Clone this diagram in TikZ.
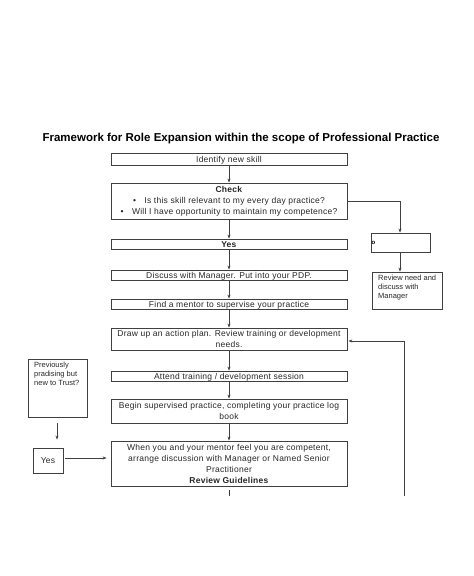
\documentclass[tikz,border=0pt]{standalone}
\usepackage{fontspec}
\setmainfont{Liberation Sans}
\newfontfamily\boxfont[LetterSpace=3]{Liberation Sans}
\usetikzlibrary{arrows.meta}
\begin{document}
\begin{tikzpicture}[x=1pt,y=-1pt,
  box/.style={draw=black!75,line width=0.8pt,inner sep=0pt,font=\boxfont\fontsize{8.5}{11}\selectfont,text=black!85},
  lbox/.style={box,text height=6.5pt,text depth=0pt},
  mbox/.style={box,align=center},
  sbox/.style={draw=black!75,line width=0.8pt,inner sep=0pt},
  note/.style={inner sep=0pt,align=left,font=\fontsize{7.5}{9}\selectfont,text=black!85,anchor=north west},
  arr/.style={draw=black!75,line width=0.7pt,-{Stealth[length=4pt,width=3pt]}},
  ln/.style={draw=black!75,line width=0.7pt}]
\useasboundingbox (0,0) rectangle (474,576);
\node[font=\bfseries\fontsize{11.5}{13}\selectfont,inner sep=0pt,anchor=base] (title) at (241,141) {Framework for Role Expansion within the scope of Professional Practice};
\node[lbox,minimum width=236,minimum height=12] (identify) at (229,159) {Identify new skill};
\node[mbox,minimum width=236,minimum height=36] (check) at (229,201) {\textbf{Check}\\\textbullet\quad Is this skill relevant to my every day practice?\\\textbullet\quad Will I have opportunity to maintain my competence?};
\node[lbox,minimum width=236,minimum height=10] (yes) at (229,244) {\textbf{Yes}};
\node[lbox,minimum width=236,minimum height=10] (discuss) at (229,275) {Discuss with Manager. Put into your PDP.};
\node[lbox,minimum width=236,minimum height=10] (mentor) at (229,304) {Find a mentor to supervise your practice};
\node[mbox,minimum width=236,minimum height=22] (drawup) at (229,339) {Draw up an action plan. Review training or development\\needs.};
\node[lbox,minimum width=236,minimum height=10] (attend) at (229,376) {Attend training / development session};
\node[mbox,minimum width=236,minimum height=24] (begin) at (229,411) {Begin supervised practice, completing your practice log\\book};
\node[mbox,minimum width=236,minimum height=45] (when) at (229,463.5) {When you and your mentor feel you are competent,\\arrange discussion with Manager or Named Senior\\Practitioner\\\textbf{Review Guidelines}};
\foreach \a/\b in {identify/check,check/yes,yes/discuss,discuss/mentor,mentor/drawup,drawup/attend,attend/begin,begin/when}
  \draw[arr] (\a.south) -- (\b.north);
\coordinate (t1) at (229,490);
\coordinate (t2) at (229,496);
\draw[ln] (t1) -- (t2);
% right side
\node[sbox,minimum width=59,minimum height=19] (obox) at (400.5,242.5) {};
\node[inner sep=0pt,font=\bfseries\fontsize{6}{6}\selectfont,anchor=west] (olab) at (371.5,243) {o};
\node[sbox,minimum width=70,minimum height=37] (review) at (407,290.5) {};
\node[note] (revtext) at (378,275) {Review need and\\discuss with\\Manager};
\coordinate (cr) at (400,201);
\draw[arr] (check.east |- cr) -- (cr) -- (obox.north -| cr);
\draw[arr] (obox.south -| cr) -- (review.north -| cr);
\coordinate (fbb) at (404,496);
\coordinate (fbt) at (404,341);
\draw[arr] (fbb) -- (fbt) -- ([xshift=1pt]drawup.east |- fbt);
% left side
\node[sbox,minimum width=59,minimum height=58] (prev) at (57.5,388) {};
\node[note] (prevtext) at (34,362) {Previously\\pradising but\\new to Trust?};
\node[box,minimum width=30,minimum height=25] (lyes) at (48,460.5) {Yes};
\draw[arr,shorten <=6pt,shorten >=8pt] (prev.south -| 57,0) -- (lyes.north -| 57,0);
\coordinate (ly) at (0,458);
\draw[arr,shorten <=2pt,shorten >=4pt] (lyes.east |- ly) -- (when.west |- ly);
\end{tikzpicture}
\end{document}
